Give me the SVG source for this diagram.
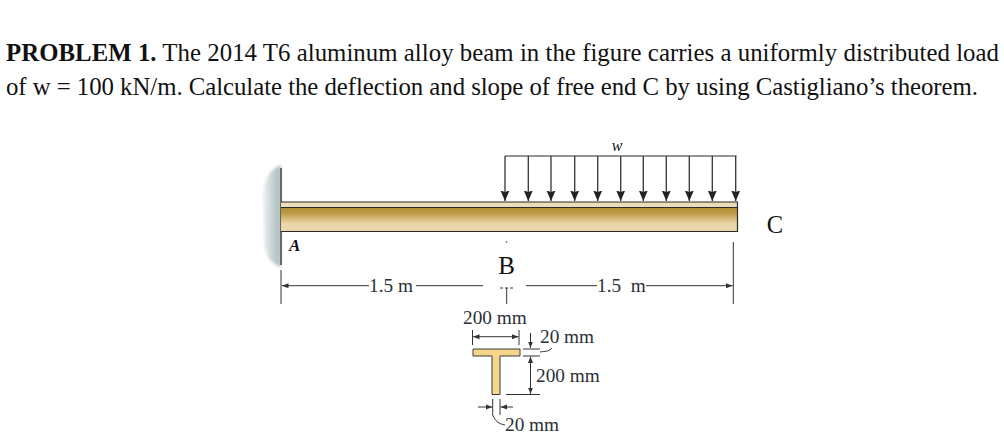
<svg xmlns="http://www.w3.org/2000/svg" width="1004" height="436" viewBox="0 0 1004 436">
<style>
.t{font-family:"Liberation Serif","Times New Roman",serif;fill:#111}
.p{font-size:24.8px}
.l{font-size:19.3px;fill:#2b3038}
.ln{stroke:#2a2a2a;stroke-width:1.2;fill:none}
.ld{stroke:#333;stroke-width:1.3;fill:none;marker-end:url(#ah)}
.dm{stroke:#333;stroke-width:1;fill:none}
.da{stroke:#333;stroke-width:1;fill:none;marker-end:url(#sa)}
</style>
<defs>
<marker id="ah" markerUnits="userSpaceOnUse" markerWidth="11" markerHeight="10" refX="10.500" refY="5" orient="auto" viewBox="0 0 11 10"><path d="M0 0.500L1.500 5L0 9.500L10.500 5Z" fill="#222"/></marker>
<marker id="sa" markerUnits="userSpaceOnUse" markerWidth="7" markerHeight="6" refX="6.500" refY="3" orient="auto" viewBox="0 0 7 6"><path d="M0 0.500L6.500 3L0 5.500Z" fill="#333"/></marker>
<linearGradient id="wall" x1="0" x2="1" y1="0" y2="0"><stop offset="0" stop-color="#eef2f2"/><stop offset=".45" stop-color="#cbd6d8"/><stop offset="1" stop-color="#a9babd"/></linearGradient>
<linearGradient id="beam" x1="0" x2="0" y1="0" y2="1"><stop offset="0" stop-color="#b08c34"/><stop offset=".25" stop-color="#bd9a45"/><stop offset=".68" stop-color="#ecd6a8"/><stop offset="1" stop-color="#ecd8b0"/></linearGradient>
<filter id="soft" x="-20%" y="-20%" width="140%" height="140%"><feGaussianBlur stdDeviation="1.500"/></filter>
</defs>
<rect width="1004" height="436" fill="#fff"/>
<g id="problem-text">
<text class="t p" x="6" y="61" textLength="993"><tspan font-weight="700">PROBLEM 1.</tspan> The 2014 T6 aluminum alloy beam in the figure carries a uniformly distributed load</text>
<text class="t p" x="6" y="95" textLength="972">of w = 100 kN/m. Calculate the deflection and slope of free end C by using Castigliano’s theorem.</text>
</g>
<g id="wall"><path d="M281 165C270 169 264 180 263 195L264 240C265 256 271 264 281 267Z" fill="url(#wall)" filter="url(#soft)"/><path d="M281 168V265" stroke="#2a2a2a" stroke-width="1.300"/></g>
<g id="beam">
<rect x="281" y="207" width="456.500" height="24.500" fill="url(#beam)"/>
<rect x="281" y="202" width="456.500" height="5.300" fill="#ecdcb8"/>
<path d="M281 202H737.500V231.500H281M281 207.500H737.500" class="ln"/>
</g>
<g id="connectors">
<path class="ln" d="M505 156H736.500"/>
<path class="ld" d="M505 156V201"/><path class="ld" d="M528.300 156V201"/><path class="ld" d="M551 156V201"/><path class="ld" d="M574.700 156V201"/><path class="ld" d="M597.700 156V201"/><path class="ld" d="M620.700 156V201"/><path class="ld" d="M643.300 156V201"/><path class="ld" d="M666.300 156V201"/><path class="ld" d="M689.300 156V201"/><path class="ld" d="M712.300 156V201"/><path class="ld" d="M735.700 156V201"/>
<path class="dm" d="M281 270V304"/><path class="da" d="M369 285.700H282"/><path class="dm" d="M416 285.700H483"/><path class="dm" d="M506.700 288V304"/><path class="dm" d="M500 288H514" stroke-dasharray="3 2"/><path class="dm" d="M526 285.700H597"/><path class="da" d="M646 285.700H732.500"/><path class="dm" d="M733.300 242V304"/>
<circle cx="506.500" cy="242" r=".8" fill="#444"/>
</g>
<g id="t-section">
<path d="M473 349H520V356H500V394.500H492V356H473Z" fill="#f5d58a" stroke="#3a3a3a" stroke-width="1"/>
<path class="dm" d="M472.500 330V345M519 330V345"/><path class="da" d="M496 336.700H473"/><path class="da" d="M496 336.700H518.500"/>
<path class="dm" d="M523 349H540M523 356H540M506 394.500H540"/><path class="da" d="M530.500 333V348"/><path class="da" d="M530.500 375V356.500"/><path class="da" d="M530.500 375V394"/>
<path class="dm" d="M552 348C549 352 545 351 540 352"/>
<path class="dm" d="M492.700 399V415M500 399V415"/><path class="da" d="M478 407H492.200"/><path class="da" d="M513 407H500.500"/><path class="dm" d="M492.700 415C495 421 499 424 505 425"/>
</g>
<g id="labels">
<text class="t" x="289" y="250.500" font-size="17" font-weight="700" font-style="italic" fill="#2e3a55">A</text>
<text class="t" x="617" y="150.500" font-size="16" font-style="italic" fill="#3d4a66" text-anchor="middle">w</text>
<text class="t" x="506.500" y="274" font-size="25" text-anchor="middle">B</text>
<text class="t" x="775" y="233" font-size="24.500" text-anchor="middle">C</text>
<text class="t l" x="369" y="292">1.5 m</text>
<text class="t l" x="597" y="292" xml:space="preserve">1.5  m</text>
<text class="t l" x="463" y="324">200 mm</text>
<text class="t l" x="540" y="343">20 mm</text>
<text class="t l" x="536" y="382">200 mm</text>
<text class="t l" x="505" y="431">20 mm</text>
</g>
</svg>
